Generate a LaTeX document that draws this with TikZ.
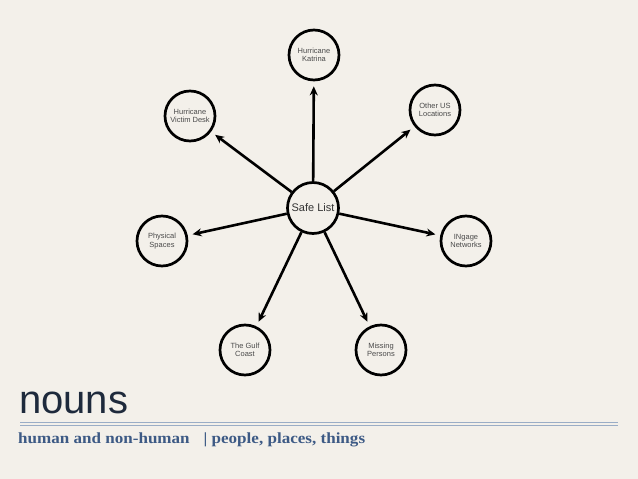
\documentclass[tikz,border=0pt]{standalone}
\usepackage{fontspec}
\setmainfont{Liberation Sans}
\newfontfamily\subfont[FakeStretch=1.1]{Liberation Serif}
\usetikzlibrary{arrows.meta}
\definecolor{bgc}{HTML}{F3F0EA}
\definecolor{navy}{HTML}{1E2A3C}
\definecolor{subc}{HTML}{3D5A85}
\definecolor{rulec}{HTML}{9AADC6}
\definecolor{nodetext}{HTML}{4A4A4A}
\tikzset{
  circ/.style={circle, draw=black, line width=2.7pt, minimum size=50pt, inner sep=0pt,
    align=center, font=\fontsize{7.5}{8.6}\selectfont, text=nodetext},
  hub/.style={circ, minimum size=51pt, font=\fontsize{11}{12}\selectfont, text=black!80},
  arr/.style={line width=2.6pt, -{Stealth[length=9pt,width=8pt]}, shorten >=5pt}
}
\begin{document}
\begin{tikzpicture}[x=1pt,y=-1pt]
\fill[bgc] (0,0) rectangle (638,479);
\useasboundingbox (0,0) rectangle (638,479);
\node[hub] (safe) at (313,208) {Safe List};
\node[circ] (hk) at (314,55) {Hurricane\\Katrina};
\node[circ] (hvd) at (190,116) {Hurricane\\Victim Desk};
\node[circ] (ous) at (435,110) {Other US\\Locations};
\node[circ] (ps) at (162,241) {Physical\\Spaces};
\node[circ] (ing) at (466,241) {INgage\\Networks};
\node[circ] (gulf) at (245,350) {The Gulf\\Coast};
\node[circ] (mp) at (381,350) {Missing\\Persons};
\foreach \t in {hk,hvd,ous,ps,ing,gulf,mp} \draw[arr] (safe) -- (\t);
\node[anchor=base west, inner sep=0pt, text=navy, font=\fontsize{40}{40}\selectfont] (title) at (19,413) {nouns};
\draw[rulec, line width=1pt] (20,422.3) -- (618,422.3);
\draw[rulec, line width=1pt] (20,425.3) -- (618,425.3);
\node[anchor=base west, inner sep=0pt, text=subc, font=\subfont\bfseries\fontsize{15.5}{15.5}\selectfont] (sub) at (18,443.5) {human and non-human\hspace{0.9em}| people, places, things};
\end{tikzpicture}
\end{document}
